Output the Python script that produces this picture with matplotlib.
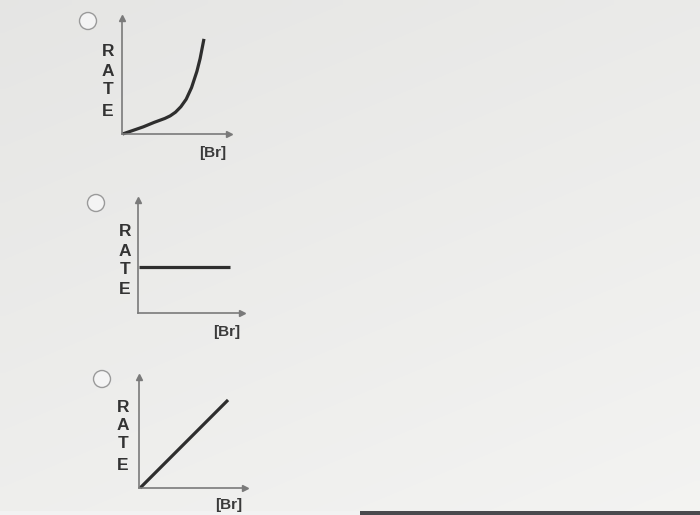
import numpy as np
import matplotlib
matplotlib.use("Agg")
import matplotlib.pyplot as plt
from matplotlib.patches import Circle

plt.rcParams['font.family'] = ['Liberation Sans', 'DejaVu Sans']

W, H = 700, 515

# ---- data ----
letters = ["R", "A", "T", "E"]
x_label = "[Br]"
# panel 1: exponential-like rise
p1_x = [0.05, 1.0, 2.0, 3.0, 4.0, 4.5, 5.0, 5.5, 6.0, 6.5, 7.0, 7.3, 7.66]
p1_y = [0.0, 0.3, 0.62, 1.0, 1.34, 1.56, 1.88, 2.35, 3.0, 4.0, 5.4, 6.5, 8.2]
# panel 2: constant
p2_x = [0.1, 8.85]
p2_y = [4.07, 4.07]
# panel 3: linear
p3_x = [0.1, 8.4]
p3_y = [0.0, 7.93]

# ---- layout (pixel boxes: left, bottom, right, top) ----
boxes = [(122, 134, 229, 18), (138, 313, 242, 200), (139, 488, 245, 377)]
letter_pos = [(108, [52, 71, 90, 111]), (125, [232, 251, 269, 290]), (123, [407, 426, 444, 465])]
br_pos = [(213, 153), (227, 332), (229, 505)]
circles = [(88, 21), (96, 203), (102, 379)]
series = [(p1_x, p1_y), (p2_x, p2_y), (p3_x, p3_y)]

fig = plt.figure(figsize=(W / 100, H / 100), dpi=100)
bg = fig.add_axes([0, 0, 1, 1])
bg.set_xlim(0, W)
bg.set_ylim(H, 0)
bg.axis('off')

# background gradient (photo of screen)
yy, xx = np.mgrid[0:1:60j, 0:1:80j]
shade = 0.9 + 0.02 * xx + 0.035 * yy
bg.imshow(np.dstack([shade, shade, shade * 0.993]), extent=[0, W, H, 0],
          aspect='auto', zorder=0, interpolation='bilinear')
bg.fill_between([0, 360], 511, 515, color='#f2f2f2', zorder=1, lw=0)
bg.fill_between([360, 700], 511, 515, color='#4a4a4e', zorder=1, lw=0)

axis_col = '#7a7a7a'
ink = '#2e2e2e'

for i, (l, b, r, t) in enumerate(boxes):
    ax = fig.add_axes([l / W, 1 - b / H, (r - l) / W, (b - t) / H])
    ax.set_xlim(0, 10)
    ax.set_ylim(0, 10)
    ax.patch.set_alpha(0)
    for s in ['top', 'right']:
        ax.spines[s].set_visible(False)
    for s in ['left', 'bottom']:
        ax.spines[s].set_color(axis_col)
        ax.spines[s].set_linewidth(1.2)
    ax.set_xticks([])
    ax.set_yticks([])
    ax.plot([0], [1], marker='^', ms=4, color=axis_col, transform=ax.transAxes, clip_on=False)
    ax.plot([1], [0], marker='>', ms=4, color=axis_col, transform=ax.transAxes, clip_on=False)
    xs, ys = series[i]
    ax.plot(xs, ys, color=ink, lw=2.3, solid_capstyle='butt', solid_joinstyle='round',
            clip_on=False)

    lx, lys = letter_pos[i]
    for ch, ly in zip(letters, lys):
        bg.text(lx, ly, ch, ha='center', va='center', fontsize=12.5,
                fontweight='bold', color='#333333', zorder=3)
    bx, by = br_pos[i]
    bg.text(bx, by, x_label, ha='center', va='center', fontsize=11,
            fontweight='bold', color='#3a3a3a', zorder=3)
    cx, cy = circles[i]
    bg.add_patch(Circle((cx, cy), 8.5, facecolor='#f4f4f4', edgecolor='#9a9a9a',
                        lw=1.0, zorder=3))

fig.savefig('out.png', dpi=100)
